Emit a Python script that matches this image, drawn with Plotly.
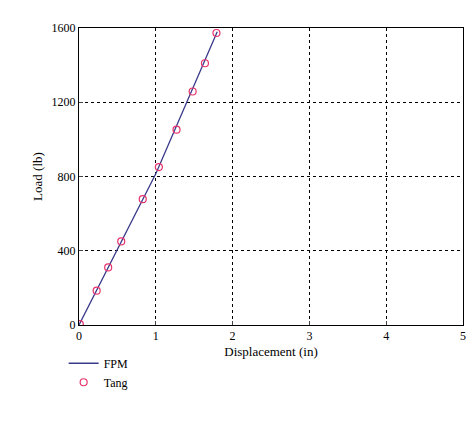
import plotly.graph_objects as go

fpm_x = [0.0, 1.0, 1.8]
fpm_y = [0, 815, 1580]
tang_x = [0.01, 0.23, 0.38, 0.55, 0.83, 1.04, 1.27, 1.48, 1.64, 1.79]
tang_y = [5, 185, 310, 450, 678, 851, 1052, 1258, 1410, 1573]
x_ticks = [0, 1, 2, 3, 4, 5]
y_ticks = [0, 400, 800, 1200, 1600]

fig = go.Figure()
fig.add_trace(go.Scatter(x=fpm_x, y=fpm_y, mode="lines", name="FPM",
                         line=dict(color="#3a3a8c", width=1.3)))
fig.add_trace(go.Scatter(x=tang_x, y=tang_y, mode="markers", name="Tang",
                         marker=dict(symbol="circle-open", color="#e8336b", size=7, line=dict(width=1.2))))
ax = dict(showline=True, linecolor="black", linewidth=1, mirror=True, ticks="inside",
          ticklen=4, showgrid=True, gridcolor="black", griddash="dot", gridwidth=1,
          zeroline=False, tickfont=dict(size=12, color="black"))
fig.update_xaxes(**ax, range=[0, 5], tickvals=x_ticks,
                 title=dict(text="Displacement (in)", font=dict(size=13, color="black"), standoff=4))
fig.update_yaxes(**ax, range=[0, 1600], tickvals=y_ticks,
                 title=dict(text="Load (lb)", font=dict(size=13, color="black"), standoff=6))
fig.update_layout(width=474, height=440, plot_bgcolor="white", paper_bgcolor="white",
                  font=dict(family="Liberation Serif", color="black"),
                  margin=dict(l=71, r=19, t=20, b=123),
                  legend=dict(x=-0.04, y=-0.08, xanchor="left", yanchor="top",
                              font=dict(size=12), bgcolor="rgba(0,0,0,0)", tracegroupgap=0))
fig.write_html("out.html")
